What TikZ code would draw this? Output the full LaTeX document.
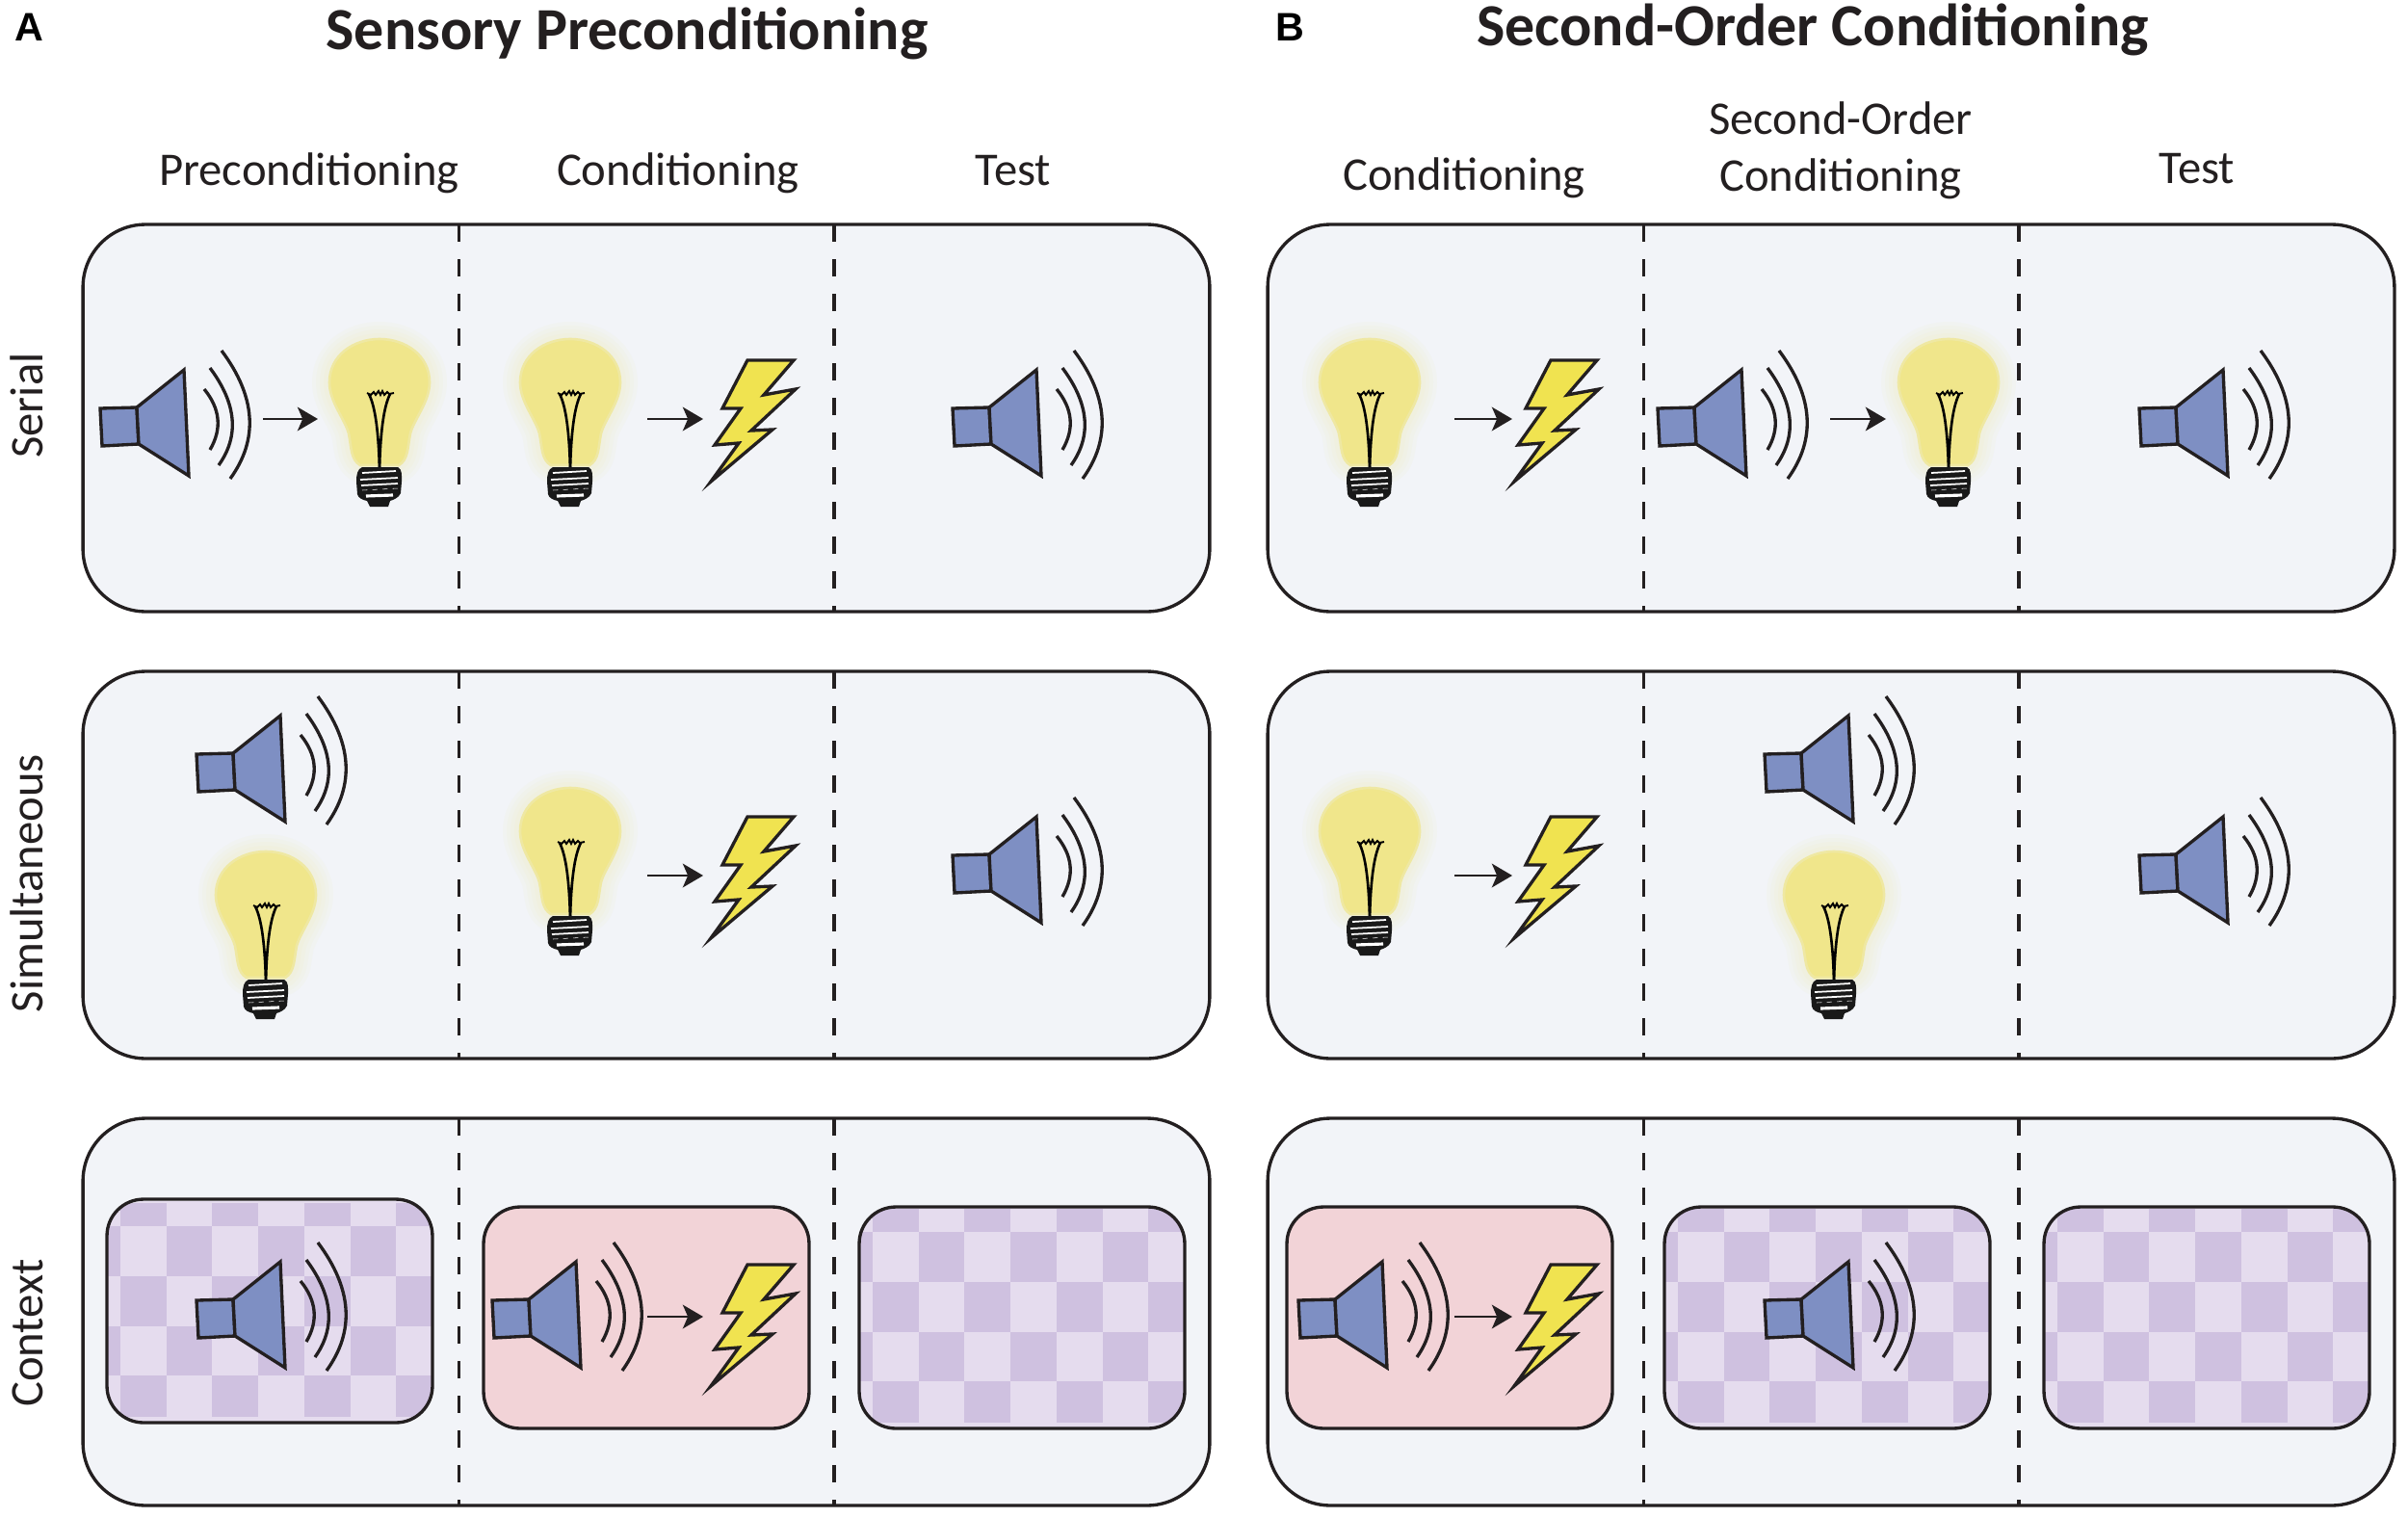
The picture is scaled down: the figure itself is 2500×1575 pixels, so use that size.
\documentclass[tikz,border=0pt]{standalone}
\usepackage{fontspec}
\setmainfont{Carlito}
\newfontfamily\letterfont{Liberation Sans}
\usetikzlibrary{arrows.meta,calc}

\definecolor{inkline}{HTML}{231F20}
\definecolor{panelbg}{HTML}{F2F4F8}
\definecolor{conecolor}{HTML}{7E8FC3}
\definecolor{bulbcolor}{HTML}{F0E68B}
\definecolor{rimcolor}{HTML}{EFE8A2}
\definecolor{boltcolor}{HTML}{F0E350}
\definecolor{pinkbg}{HTML}{F2D3D7}
\definecolor{checklight}{HTML}{E5DCEE}
\definecolor{checkdark}{HTML}{CFC1E0}

\tikzset{
  panelbox/.style={draw=inkline, fill=panelbg, line width=1.9pt, rounded corners=1.3cm,
    minimum width=23.4cm, minimum height=8.04cm, inner sep=0pt, outer sep=0pt},
  contextbox/.style={draw=inkline, line width=1.9pt, rounded corners=0.76cm,
    minimum width=6.76cm, minimum height=4.6cm, inner sep=0pt, outer sep=0pt},
  divider/.style={draw=inkline, line width=2pt, dash pattern=on 18*0.5692pt off 18*0.5692pt},
  flow/.style={draw=inkline, line width=1.6pt, -{Stealth[length=12pt, width=14pt, inset=3pt]}},
  maintitle/.style={anchor=base, text=inkline, font=\bfseries\fontsize{35.3}{40}\selectfont},
  phase/.style={anchor=base, text=inkline, font=\fontsize{27.7}{32}\selectfont},
  rowlabel/.style={anchor=base, rotate=90, text=inkline, font=\fontsize{27.7}{32}\selectfont},
  panelletter/.style={anchor=base, text=black, font=\letterfont\bfseries\fontsize{23.5}{28}\selectfont},
  pics/speaker/.style={code={
    \draw[draw=inkline, fill=conecolor, line width=1.9pt, line join=miter]
      (0,-19) -- (38,-20) -- (40,18) -- (2,20) -- cycle;
    \draw[draw=inkline, fill=conecolor, line width=1.9pt, line join=miter]
      (38,-20) -- (87,-59) -- (92,51) -- (40,18) -- cycle;
    \draw[inkline, line width=1.9pt] (108,-39) .. controls (124.7,-18.7) and (126.7,2.3) .. (114,24);
    \draw[inkline, line width=1.9pt] (114,-61) .. controls (141.7,-24) and (144.7,9.7) .. (123,40);
    \draw[inkline, line width=1.9pt] (126,-79) .. controls (161.7,-31.3) and (164.7,13) .. (135,54);
  }},
  pics/bulb/.style={code={
    % glow, then glass
    \foreach \glow in {36,28,20,12}
      \draw[bulbcolor, opacity=0.06, line width=\glow*0.5692pt, line join=round]
        (-20,48) .. controls (-30,42) and (-29,30) .. (-32,15)
        .. controls (-36,0) and (-52,-18) .. (-52,-38)
        .. controls (-52,-66) and (-27,-83) .. (0,-83)
        .. controls (27,-83) and (52,-66) .. (52,-38)
        .. controls (52,-18) and (36,0) .. (32,15)
        .. controls (29,30) and (30,42) .. (20,48) -- cycle;
    \draw[draw=rimcolor, fill=bulbcolor, line width=1.5pt]
      (-20,48) .. controls (-30,42) and (-29,30) .. (-32,15)
      .. controls (-36,0) and (-52,-18) .. (-52,-38)
      .. controls (-52,-66) and (-27,-83) .. (0,-83)
      .. controls (27,-83) and (52,-66) .. (52,-38)
      .. controls (52,-18) and (36,0) .. (32,15)
      .. controls (29,30) and (30,42) .. (20,48) -- cycle;
    % filament
    \draw[black, line width=1.5pt] (-11,-26) .. controls (-4,-12) and (-1,15) .. (0,52);
    \draw[black, line width=1.5pt] (11,-26) .. controls (4,-12) and (1,15) .. (0,52);
    \draw[black, line width=1.1pt] (-13,-27) -- (-9,-25) -- (-6,-28) -- (-4,-25) -- (-1,-29)
      -- (1,-25) -- (3,-29) -- (5,-25) -- (8,-28) -- (10,-26) -- (15,-27);
    % screw base
    \fill[black!90] (-18,50) -- (19,50) .. controls (24,52) and (23,60) .. (23,65)
      -- (22,77) .. controls (20,82) and (14,84) .. (11,85) -- (9,91) -- (-10,91) -- (-13,85)
      .. controls (-18,84) and (-22,82) .. (-23,78) -- (-24,65) .. controls (-24,58) and (-23,52) .. (-18,50) -- cycle;
    \draw[white, line width=1pt] (-18,56) -- (17,54);
    \draw[white, line width=1pt] (-20,63) -- (19,61);
    \draw[white, line width=1pt] (-19,69) -- (19,67);
    \draw[white, line width=0.3pt, dashed] (-18,74) -- (19,72);
    \draw[white, line width=1.8pt] (-14,80) -- (14,79);
  }},
  pics/bolt/.style={code={
    \draw[draw=inkline, fill=boltcolor, line width=1.9pt, line join=miter]
      (1,-61) -- (49,-61) -- (18,-25) -- (51,-31) -- (5,12) -- (27,11) -- (-37,65)
      -- (-8,25) -- (-33,27) -- (-6,-11) -- (-25,-11) -- cycle;
  }},
  pics/checker/.style={code={
    \begin{scope}
      \clip[rounded corners=0.76cm] (0,0) rectangle (338,230);
      \fill[checklight] (0,0) rectangle (338,230);
      \foreach \ya/\yb in {2/26,78/130,181/224}
        \foreach \xa in {14,109.4,204.8,300.2}
          \fill[checkdark] (\xa,\ya) rectangle (\xa+47.7,\yb);
      \foreach \ya/\yb in {26/78,130/181}
        \foreach \xa in {-33.7,61.7,157.1,252.5}
          \fill[checkdark] (\xa,\ya) rectangle (\xa+47.7,\yb);
    \end{scope}
  }},
}

\begin{document}
\begin{tikzpicture}[x=0.02cm, y=-0.02cm]
  \useasboundingbox (0,0) rectangle (2500,1575);
  % Headings:
  \node[panelletter] (letterA) at (30,43) {A};
  \node[panelletter] (letterB) at (1339,43) {B};
  \node[maintitle] (titleA) at (651,52) {Sensory Preconditioning};
  \node[maintitle] (titleB) at (1882,48) {Second-Order Conditioning};
  \node[phase] (phaseAa) at (321,192) {Preconditioning};
  \node[phase] (phaseAb) at (704,192) {Conditioning};
  \node[phase] (phaseAc) at (1052,192) {Test};
  \node[phase] (phaseBa) at (1520,197) {Conditioning};
  \node[phase] (phaseBb) at (1911,139) {Second-Order};
  \node[phase] (phaseBc) at (1911,198) {Conditioning};
  \node[phase] (phaseBd) at (2281,190) {Test};
  \node[rowlabel] (rowserial) at (44,421) {Serial};
  \node[rowlabel] (rowsimult) at (44,917) {Simultaneous};
  \node[rowlabel] (rowcontext) at (44,1384) {Context};

  % Panels and dashed dividers:
  \foreach \col/\xleft in {A/86,B/1316}
    \foreach \row/\ytop in {1/233,2/697,3/1161} {
      \node[panelbox] (panel\col\row) at (\xleft+585,\ytop+201) {};
      \draw[divider] ($(panel\col\row.north west)+(390.5,0)$) -- ($(panel\col\row.south west)+(390.5,0)$);
      \draw[divider] ($(panel\col\row.north west)+(780,0)$) -- ($(panel\col\row.south west)+(780,0)$);
    }

  % Serial row:
  \pic at (104,443) {speaker};
  \pic at (394,435) {bulb};
  \pic at (592,435) {bulb};
  \pic at (775,435) {bolt};
  \pic at (989,443) {speaker};
  \pic at (1422,435) {bulb};
  \pic at (1609,435) {bolt};
  \pic at (1721,443) {speaker};
  \pic at (2023,435) {bulb};
  \pic at (2221,443) {speaker};
  \coordinate (flowAa) at (273,435);
  \coordinate (flowAb) at (330,435);
  \coordinate (flowAc) at (672,435);
  \coordinate (flowAd) at (730,435);
  \coordinate (flowAe) at (1510,435);
  \coordinate (flowAf) at (1570,435);
  \coordinate (flowAg) at (1900,435);
  \coordinate (flowAh) at (1958,435);
  \draw[flow] (flowAa) -- (flowAb);
  \draw[flow] (flowAc) -- (flowAd);
  \draw[flow] (flowAe) -- (flowAf);
  \draw[flow] (flowAg) -- (flowAh);

  % Simultaneous row:
  \pic at (204,802) {speaker};
  \pic at (276,967) {bulb};
  \pic at (592,901) {bulb};
  \pic at (775,909) {bolt};
  \pic at (989,907) {speaker};
  \pic at (1422,901) {bulb};
  \pic at (1609,909) {bolt};
  \pic at (1832,802) {speaker};
  \pic at (1904,967) {bulb};
  \pic at (2221,907) {speaker};
  \coordinate (flowBa) at (672,909);
  \coordinate (flowBb) at (730,909);
  \coordinate (flowBc) at (1510,909);
  \coordinate (flowBd) at (1570,909);
  \draw[flow] (flowBa) -- (flowBb);
  \draw[flow] (flowBc) -- (flowBd);

  % Context row:
  \pic at (111,1247) {checker};
  \node[contextbox, minimum height=4.64cm] (ctxAa) at (280,1361) {};
  \node[contextbox, fill=pinkbg] (ctxAb) at (671,1368) {};
  \pic at (892,1253) {checker};
  \node[contextbox] (ctxAc) at (1061,1368) {};
  \node[contextbox, fill=pinkbg] (ctxBa) at (1505,1368) {};
  \pic at (1728,1253) {checker};
  \node[contextbox] (ctxBb) at (1897,1368) {};
  \pic at (2122,1253) {checker};
  \node[contextbox] (ctxBc) at (2291,1368) {};
  \pic at (204,1369) {speaker};
  \pic at (511,1369) {speaker};
  \pic at (775,1374) {bolt};
  \pic at (1348,1369) {speaker};
  \pic at (1609,1374) {bolt};
  \pic at (1832,1369) {speaker};
  \coordinate (flowCa) at (672,1367);
  \coordinate (flowCb) at (730,1367);
  \coordinate (flowCc) at (1510,1367);
  \coordinate (flowCd) at (1570,1367);
  \draw[flow] (flowCa) -- (flowCb);
  \draw[flow] (flowCc) -- (flowCd);
\end{tikzpicture}
\end{document}
